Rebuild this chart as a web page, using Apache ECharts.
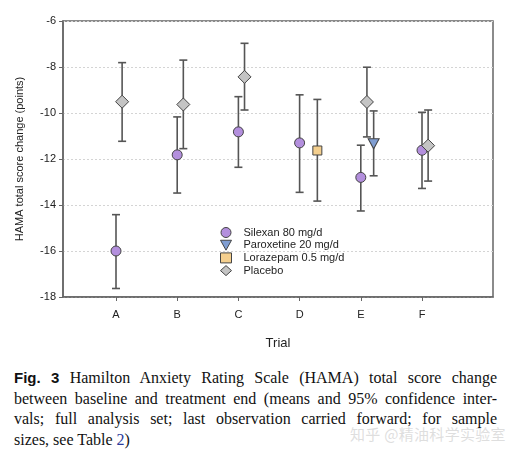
<!DOCTYPE html>
<html>
<head>
<meta charset="utf-8">
<script src="https://cdn.jsdelivr.net/npm/echarts@6/dist/echarts.min.js"></script>
<style>
html,body{margin:0;padding:0;background:#fff;}
#wrap{position:relative;width:519px;height:453px;overflow:hidden;}
#chart{position:absolute;left:0;top:0;width:519px;height:355px;}
#cap{position:absolute;left:14px;top:368px;width:483px;font-family:'Liberation Serif','Times New Roman',serif;font-size:16px;line-height:20.7px;color:#111;}
#cap .j{text-align:justify;text-align-last:justify;}
#cap b{font-family:'Liberation Sans',Arial,sans-serif;font-weight:bold;font-size:15px;}
#wm{position:absolute;left:350px;top:423px;font-family:'Noto Sans CJK SC',sans-serif;font-size:15px;color:rgba(200,200,200,0.6);letter-spacing:0.3px;}
</style>
</head>
<body>
<div id="wrap">
<div id="chart"></div>
<div id="cap">
<div class="j"><b>Fig. 3</b> Hamilton Anxiety Rating Scale (HAMA) total score change</div>
<div class="j">between baseline and treatment end (means and 95% confidence inter-</div>
<div class="j">vals; full analysis set; last observation carried forward; for sample</div>
<div>sizes, see Table <span style="color:#2a3b9c">2</span>)</div>
</div>
<div id="wm">知乎 @精油科学实验室</div>
</div>
<script>
// ---- data ----
const trials = ['A', 'B', 'C', 'D', 'E', 'F'];
const yTicks = [-6, -8, -10, -12, -14, -16, -18];

const silexanTrials = ['A', 'B', 'C', 'D', 'E', 'F'];
const silexanMean = [-16.0, -11.82, -10.82, -11.30, -12.80, -11.62];
const silexanLow  = [-17.63, -13.48, -12.36, -13.45, -14.26, -13.28];
const silexanHigh = [-14.42, -10.17, -9.29, -9.21, -11.40, -9.97];

const paroxetineTrials = ['E'];
const paroxetineMean = [-11.34];
const paroxetineLow  = [-12.73];
const paroxetineHigh = [-9.91];

const lorazepamTrials = ['D'];
const lorazepamMean = [-11.63];
const lorazepamLow  = [-13.83];
const lorazepamHigh = [-9.41];

const placeboTrials = ['A', 'B', 'C', 'E', 'F'];
const placeboMean = [-9.51, -9.63, -8.43, -9.52, -11.42];
const placeboLow  = [-11.23, -11.55, -9.87, -11.04, -12.96];
const placeboHigh = [-7.81, -7.70, -6.97, -8.01, -9.87];

// ---- layout / style ----
const groups = [
  {name: 'Silexan 80 mg/d', trials: silexanTrials, mean: silexanMean, low: silexanLow, high: silexanHigh,
   offset: 0, symbol: 'circle', size: 10, color: '#b38fdd'},
  {name: 'Paroxetine 20 mg/d', trials: paroxetineTrials, mean: paroxetineMean, low: paroxetineLow, high: paroxetineHigh,
   offset: 0.21, symbol: 'path://M0,0 L10,0 L5,9 Z', size: [11, 10], color: '#809ed2'},
  {name: 'Lorazepam 0.5 mg/d', trials: lorazepamTrials, mean: lorazepamMean, low: lorazepamLow, high: lorazepamHigh,
   offset: 0.29, symbol: 'rect', size: 9, color: '#f4cf8e'},
  {name: 'Placebo', trials: placeboTrials, mean: placeboMean, low: placeboLow, high: placeboHigh,
   offset: 0.1, symbol: 'diamond', size: 13, color: '#c4c4c4'}
];

const pos = t => trials.indexOf(t) + 1;
const axisColor = '#666';
const textFont = "'Liberation Sans', Arial, sans-serif";

const series = [];
groups.forEach(g => {
  const barData = g.trials.map((t, i) => [pos(t) + g.offset, g.low[i], g.high[i]]);
  series.push({
    type: 'custom',
    name: g.name + ' CI',
    silent: true,
    z: 2,
    data: barData,
    renderItem: function (params, api) {
      const x = api.value(0);
      const lo = api.coord([x, api.value(1)]);
      const hi = api.coord([x, api.value(2)]);
      const cap = 4;
      const st = {stroke: '#555', lineWidth: 1.6};
      return {
        type: 'group',
        children: [
          {type: 'line', shape: {x1: lo[0], y1: lo[1], x2: hi[0], y2: hi[1]}, style: st},
          {type: 'line', shape: {x1: lo[0] - cap, y1: lo[1], x2: lo[0] + cap, y2: lo[1]}, style: st},
          {type: 'line', shape: {x1: hi[0] - cap, y1: hi[1], x2: hi[0] + cap, y2: hi[1]}, style: st}
        ]
      };
    }
  });
  series.push({
    type: 'scatter',
    name: g.name,
    z: 5,
    symbol: g.symbol,
    symbolSize: g.size,
    itemStyle: {color: g.color, borderColor: '#444', borderWidth: 1, opacity: 1},
    data: g.trials.map((t, i) => [pos(t) + g.offset, g.mean[i]])
  });
});

const chart = echarts.init(document.getElementById('chart'), null, {renderer: 'canvas'});
chart.setOption({
  animation: false,
  backgroundColor: '#fff',
  grid: {left: 63, top: 21, right: 26, bottom: 57, show: true, borderColor: axisColor, borderWidth: 1.5, backgroundColor: 'transparent'},
  legend: {
    orient: 'vertical',
    left: 215, top: 222,
    itemWidth: 11, itemHeight: 10, itemGap: 1.7,
    data: groups.map(g => ({name: g.name, icon: g.symbol})),
    textStyle: {fontFamily: textFont, fontSize: 11, color: '#222', padding: [0, 0, 0, 7]},
    itemStyle: {borderColor: '#444', borderWidth: 1},
    selectedMode: false
  },
  xAxis: {
    type: 'value',
    min: 0.134, max: 7.16,
    name: 'Trial', nameLocation: 'middle', nameGap: 40,
    nameTextStyle: {fontFamily: textFont, fontSize: 13, color: '#222'},
    axisLine: {show: true, lineStyle: {color: axisColor, width: 1.5}},
    axisTick: {show: true, inside: false, length: 4, customValues: trials.map((t, i) => i + 1), lineStyle: {color: axisColor}},
    axisLabel: {customValues: trials.map((t, i) => i + 1), formatter: v => trials[Math.round(v) - 1] || '',
      fontFamily: textFont, fontSize: 11, color: '#222', margin: 12},
    splitLine: {show: false}
  },
  yAxis: {
    type: 'value',
    min: -18, max: -6, interval: 2,
    name: 'HAMA total score change (points)', nameLocation: 'middle', nameGap: 38,
    nameTextStyle: {fontFamily: textFont, fontSize: 11, color: '#222'},
    axisLine: {show: true, lineStyle: {color: axisColor, width: 1.5}},
    axisTick: {show: true, length: 4, lineStyle: {color: axisColor}},
    axisLabel: {fontFamily: textFont, fontSize: 11, color: '#222', margin: 7,
      formatter: v => yTicks.indexOf(v) >= 0 ? String(v) : ''},
    splitLine: {show: true, lineStyle: {color: '#d4d4d4', type: [2, 2], width: 1}}
  },
  series: series
});
</script>
</body>
</html>
